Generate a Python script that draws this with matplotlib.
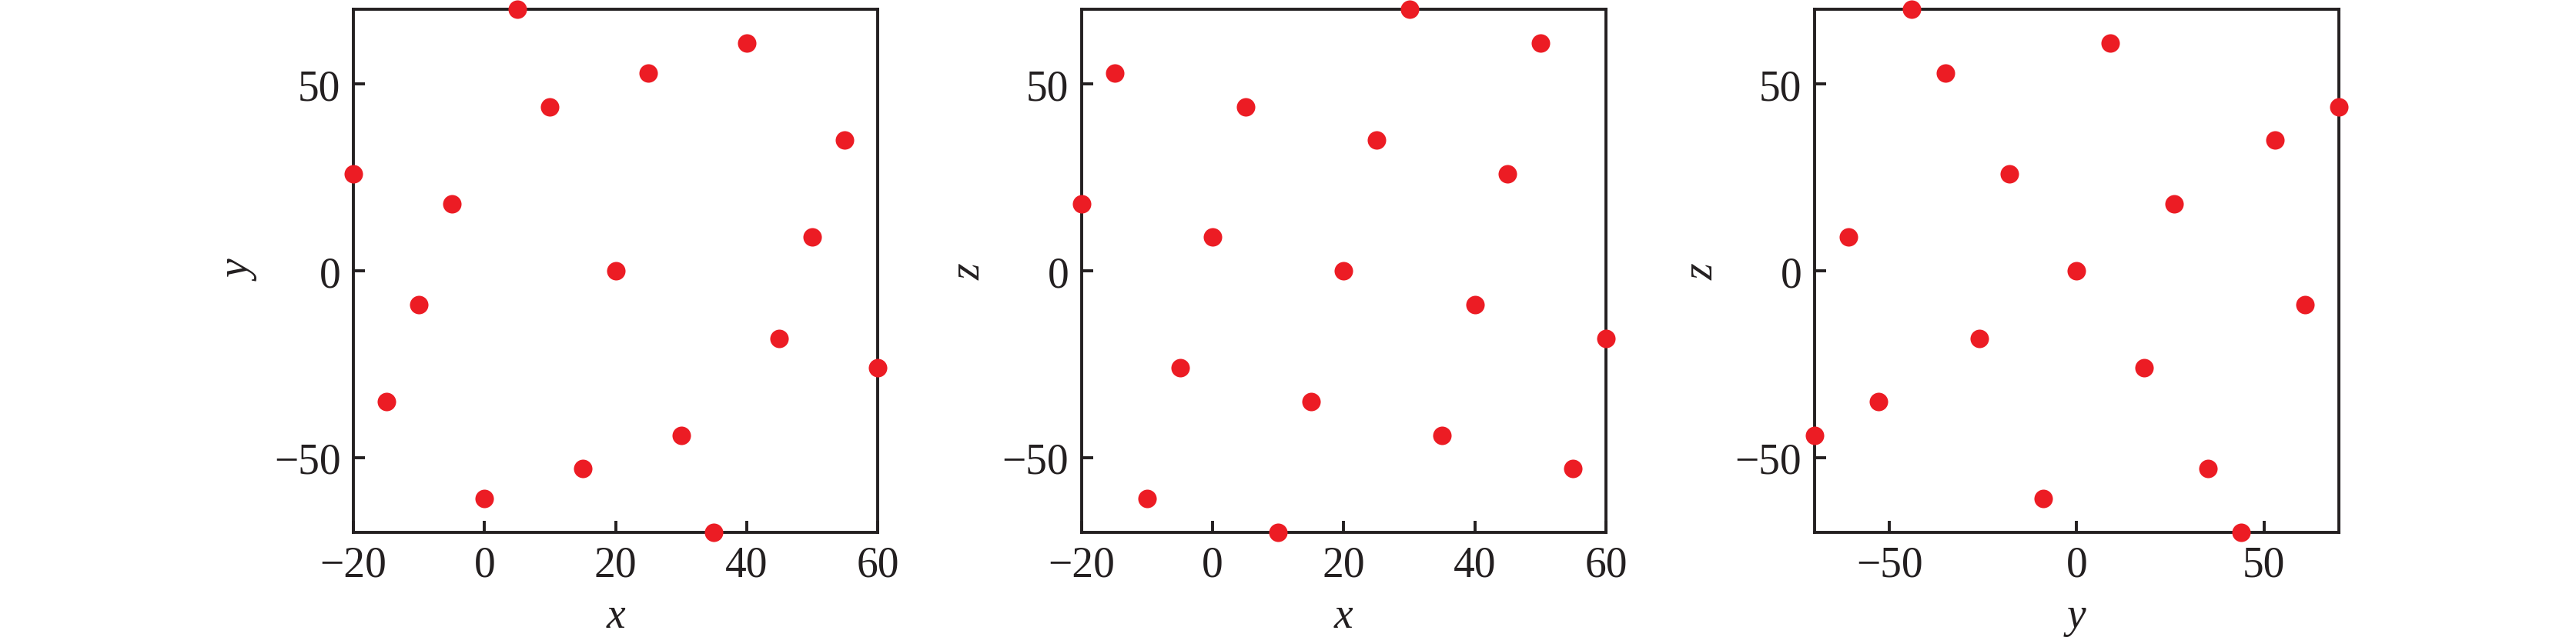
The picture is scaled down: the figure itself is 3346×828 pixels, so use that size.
import numpy as np
import matplotlib
matplotlib.use("Agg")
import matplotlib.pyplot as plt

# point coordinates
x = [-20, -15, -10, -5, 0, 5, 10, 15, 20, 25, 30, 35, 40, 45, 50, 55, 60]
y = [26, -35, -9, 18, -61, 70, 44, -53, 0, 53, -44, -70, 61, -18, 9, 35, -26]
z = [18, 53, -61, -26, 9, 44, -70, -35, 0, 35, 70, -44, -9, 26, 61, -53, -18]

panels = [(x, y, "x", "y", (-20, 60), [-20, 0, 20, 40, 60]),
          (x, z, "x", "z", (-20, 60), [-20, 0, 20, 40, 60]),
          (y, z, "y", "z", (-70, 70), [-50, 0, 50])]

plt.rcParams['font.family'] = ['Liberation Serif', 'DejaVu Serif']

fig = plt.figure(figsize=(33.46, 8.29), dpi=100)
lefts = [0.1372, 0.4199, 0.7044]

for left, (a, b, xl, yl, xlim, xt) in zip(lefts, panels):
    ax = fig.add_axes([left, 0.164, 0.2035, 0.820])
    ax.scatter(a, b, s=300, color="#ec1c24", clip_on=False, zorder=3, linewidths=0)
    ax.set_xlim(*xlim)
    ax.set_ylim(-70, 70)
    ax.set_xticks(xt)
    ax.set_yticks([-50, 0, 50])
    ax.tick_params(direction="in", length=11, width=2.8, labelsize=40, pad=12,
                   top=False, right=False, colors="#231f20")
    for sp in ax.spines.values():
        sp.set_linewidth(2.8)
        sp.set_color("#231f20")
    ax.set_xlabel(xl, fontsize=40, style="italic", labelpad=10, color="#231f20")
    ax.set_ylabel(yl, fontsize=40, style="italic", labelpad=12, color="#231f20")

fig.savefig("out.png", dpi=100)
